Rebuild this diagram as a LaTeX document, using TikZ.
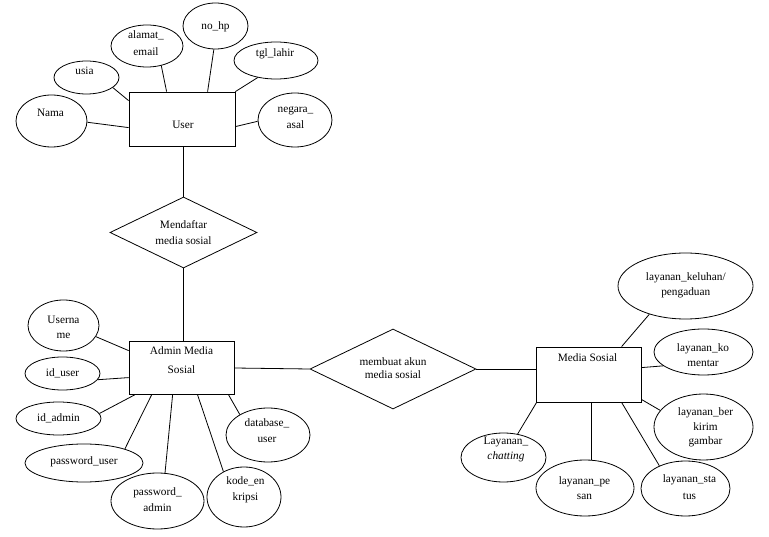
\documentclass[tikz,border=0pt]{standalone}
\usepackage{fontspec}
\setmainfont{Liberation Serif}
\usetikzlibrary{shapes.geometric}
\begin{document}
\begin{tikzpicture}[x=1pt,y=-1pt,
  line width=0.8pt,
  attr/.style={ellipse, draw, inner sep=0pt},
  ent/.style={rectangle, draw, inner sep=0pt},
  rel/.style={diamond, draw, inner sep=0pt},
  txt/.style={align=center, inner sep=0pt, font=\fontsize{11.3}{15.5}\selectfont},
  conn/.style={draw}]
\useasboundingbox (0,0) rectangle (769,537);
% ---------- User ----------
\node[ent, minimum width=106pt, minimum height=54pt] (user) at (182,119) {};
\node[txt] (usert) at (183,125) {User};
\node[attr, minimum width=71pt, minimum height=52pt] (nama) at (51.5,121) {};
\node[txt] (namat) at (50.5,113) {Nama};
\node[attr, minimum width=65pt, minimum height=33pt] (usia) at (86.5,77.5) {};
\node[txt] (usiat) at (84.5,71) {usia};
\node[attr, minimum width=72pt, minimum height=42pt] (email) at (147,46) {};
\node[txt, font=\fontsize{11.3}{17}\selectfont] (emailt) at (146,43.5) {alamat\_\\email};
\node[attr, minimum width=65pt, minimum height=46pt] (nohp) at (215.5,26) {};
\node[txt] (nohpt) at (215.5,27) {no\_hp};
\node[attr, minimum width=84pt, minimum height=37pt] (tgl) at (276,60.5) {};
\node[txt] (tglt) at (275,54) {tgl\_lahir};
\node[attr, minimum width=74pt, minimum height=54pt] (negara) at (295,120) {};
\node[txt, font=\fontsize{11.3}{16}\selectfont] (negarat) at (295.5,118) {negara\_\\asal};
\draw (usia.-21) -- ([yshift=-9pt]user.north west);
\draw (nama.-2) -- ([yshift=-36pt]user.north west);
\draw (email.-54.5) -- ([xshift=38pt]user.north west);
\draw (nohp.-94) -- ([xshift=79pt]user.north west);
\draw (tgl.-137.4) -- (user.north east);
\draw (negara.-178) -- ([yshift=-35pt]user.north east);
% ---------- Mendaftar ----------
\node[rel, minimum width=147pt, minimum height=71pt] (d1) at (183.5,232.5) {};
\node[txt, font=\fontsize{11.3}{16}\selectfont] (d1t) at (183.5,233) {Mendaftar\\media sosial};
\draw (d1.north) -- (d1.north |- user.south);
% ---------- Admin ----------
\node[ent, minimum width=105pt, minimum height=53pt] (admin) at (181.5,368) {};
\node[txt, font=\fontsize{11.3}{19}\selectfont] (admint) at (181.5,360.5) {Admin Media\\Sosial};
\draw (d1.south) -- (d1.south |- admin.north);
\node[attr, minimum width=71pt, minimum height=51pt] (uname) at (63.5,325.5) {};
\node[txt, font=\fontsize{11.3}{15}\selectfont] (unamet) at (63.5,327.5) {Userna\\me};
\node[attr, minimum width=75pt, minimum height=33pt] (iduser) at (62.5,373.5) {};
\node[txt] (idusert) at (62.5,373) {id\_user};
\node[attr, minimum width=85pt, minimum height=33pt] (idadmin) at (58.5,418.5) {};
\node[txt] (idadmint) at (58.5,418) {id\_admin};
\node[attr, minimum width=118pt, minimum height=38pt] (pwuser) at (84,463) {};
\node[txt] (pwusert) at (84,462) {password\_user};
\node[attr, minimum width=93pt, minimum height=56pt] (pwadmin) at (157.5,501) {};
\node[txt, font=\fontsize{11.3}{16}\selectfont] (pwadmint) at (157.5,500) {password\_\\admin};
\node[attr, minimum width=74pt, minimum height=60pt] (kode) at (244,497) {};
\node[txt, font=\fontsize{11.3}{16}\selectfont] (kodet) at (245.5,490) {kode\_en\\kripsi};
\node[attr, minimum width=84pt, minimum height=54pt] (db) at (268,435) {};
\node[txt, font=\fontsize{11.3}{16}\selectfont] (dbt) at (267,431) {database\_\\user};
\draw (uname.-19) -- ([yshift=-9.5pt]admin.north west);
\draw (iduser.-10.7) -- ([yshift=-36.5pt]admin.north west);
\draw (idadmin.7.7) -- ([xshift=6pt]admin.south west);
\draw (pwuser.19.6) -- ([xshift=23pt]admin.south west);
\draw (pwadmin.75) -- ([xshift=44pt]admin.south west);
\draw (kode.129.4) -- ([xshift=69pt]admin.south west);
\draw (db.144.6) -- ([xshift=100pt]admin.south west);
% ---------- membuat akun ----------
\node[rel, minimum width=166pt, minimum height=80pt] (d2) at (393,369) {};
\node[txt, font=\fontsize{11.3}{12.5}\selectfont] (d2t) at (393,368) {membuat akun\\media sosial};
\draw (admin.east) -- (d2.west);
% ---------- Media Sosial ----------
\node[ent, minimum width=105pt, minimum height=55pt] (media) at (588.5,374.5) {};
\node[txt] (mediat) at (587.5,358) {Media Sosial};
\draw (d2.east) -- (d2.east -| media.west);
\node[attr, minimum width=135pt, minimum height=66pt] (keluhan) at (685.5,286) {};
\node[txt, font=\fontsize{11.3}{15}\selectfont] (keluhant) at (685.8,285.5) {layanan\_keluhan/\\pengaduan};
\node[attr, minimum width=99pt, minimum height=46pt] (komentar) at (703.5,352) {};
\node[txt, font=\fontsize{11.3}{15}\selectfont] (komentart) at (703,355.5) {layanan\_ko\\mentar};
\node[attr, minimum width=99pt, minimum height=66pt] (berkirim) at (703.5,427) {};
\node[txt, font=\fontsize{11.3}{14.5}\selectfont] (berkirimt) at (705.5,427.5) {layanan\_ber\\kirim\\gambar};
\node[attr, minimum width=85pt, minimum height=49pt] (chatting) at (503.5,457.5) {};
\node[txt, font=\fontsize{11.3}{15}\selectfont] (chattingt) at (506,449.5) {Layanan\_\\\textit{chatting}};
\node[attr, minimum width=98pt, minimum height=56pt] (pesan) at (585,488) {};
\node[txt, font=\fontsize{11.3}{15}\selectfont] (pesant) at (584.5,488.5) {layanan\_pe\\san};
\node[attr, minimum width=89pt, minimum height=55pt] (status) at (685.5,488.5) {};
\node[txt, font=\fontsize{11.3}{17}\selectfont] (statust) at (689.5,487.5) {layanan\_sta\\tus};
\draw (keluhan.218.1) -- ([xshift=86pt]media.north west);
\draw (komentar.199) -- ([yshift=-21pt]media.north east);
\draw (berkirim.159.8) -- ([yshift=3pt]media.south east);
\draw (chatting.59.8) -- ([xshift=1pt]media.south west);
\draw (pesan.78) -- (pesan.78 |- media.south);
\draw (status.139.9) -- ([xshift=86pt]media.south west);
\end{tikzpicture}
\end{document}
